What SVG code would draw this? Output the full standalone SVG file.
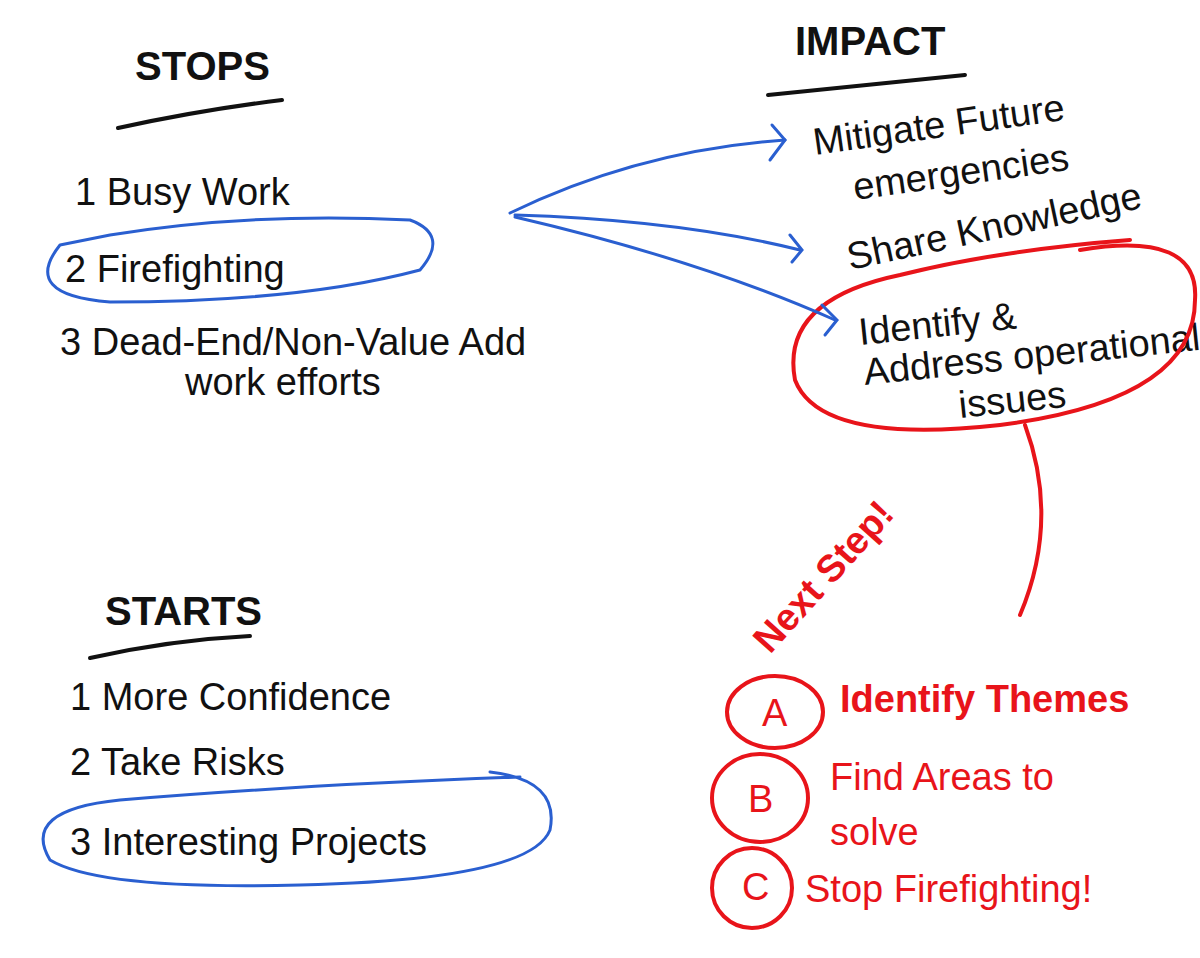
<svg xmlns="http://www.w3.org/2000/svg" width="1200" height="958" viewBox="0 0 1200 958">
<style>
.k{font-family:"Liberation Sans",sans-serif;fill:#111;font-size:38px}
.h{font-family:"Liberation Sans",sans-serif;fill:#111;font-size:40px;font-weight:bold}
.r{font-family:"Liberation Sans",sans-serif;fill:#e8141a;font-size:38px}
.bl{fill:none;stroke:#2a5fd0;stroke-width:3;stroke-linecap:round}
.rd{fill:none;stroke:#e8141a;stroke-width:4;stroke-linecap:round}
.ln{fill:none;stroke:#111;stroke-width:4;stroke-linecap:round}
</style>
<rect width="1200" height="958" fill="#fff"/>
<g id="stops">
<text class="h" x="135" y="80">STOPS</text>
<path class="ln" d="M118 128 Q200 110 282 100"/>
<text class="k" x="75" y="205">1 Busy Work</text>
<text class="k" x="65" y="282">2  Firefighting</text>
<text class="k" x="60" y="355" font-size="34">3   Dead-End/Non-Value Add</text>
<text class="k" x="185" y="395" font-size="34">work efforts</text>
<path class="bl" d="M60 245 Q20 295 110 302 Q300 302 420 270 Q450 235 410 220 Q250 212 110 235 Q60 245 60 245"/>
</g>
<g id="impact">
<text class="h" x="795" y="55">IMPACT</text>
<path class="ln" d="M768 95 Q870 85 965 75"/>
<text class="k" x="815" y="155" transform="rotate(-8 815 155)">Mitigate Future</text>
<text class="k" x="855" y="200" transform="rotate(-8 855 200)">emergencies</text>
<text class="k" x="850" y="270" transform="rotate(-12 850 270)" font-size="36">Share Knowledge</text>
<text class="k" x="860" y="345" transform="rotate(-6 860 345)" font-size="30">Identify  &amp;</text>
<text class="k" x="865" y="385" transform="rotate(-6 865 385)" font-size="26">Address operational</text>
<text class="k" x="960" y="418" transform="rotate(-6 960 418)" font-size="30">issues</text>
<path class="rd" d="M1080 250 Q1200 230 1195 300 Q1195 400 1000 425 Q820 445 795 380 Q780 300 900 275 Q1000 250 1130 240"/>
</g>
<g id="connectors">
<path class="bl" d="M510 213 Q640 150 785 140"/>
<path class="bl" d="M772 125 L785 140 L770 160"/>
<path class="bl" d="M515 215 Q680 220 800 250"/>
<path class="bl" d="M790 235 L802 250 L792 262"/>
<path class="bl" d="M515 217 Q700 260 835 320"/>
<path class="bl" d="M822 305 L837 320 L825 335"/>
<path class="rd" d="M1025 425 Q1060 520 1020 615"/>
</g>
<g id="starts">
<text class="h" x="105" y="625">STARTS</text>
<path class="ln" d="M90 658 Q170 640 250 636"/>
<text class="k" x="70" y="710">1 More Confidence</text>
<text class="k" x="70" y="775">2 Take Risks</text>
<text class="k" x="70" y="855">3 Interesting Projects</text>
<path class="bl" d="M490 772 Q560 780 550 830 Q530 880 300 885 Q100 890 50 860 Q20 810 120 800 Q300 785 520 777"/>
</g>
<g id="nextstep">
<text class="r" x="770" y="655" transform="rotate(-48 770 655)" font-weight="bold">Next Step!</text>
<ellipse class="rd" cx="775" cy="712" rx="48" ry="36"/>
<text class="r" x="762" y="726">A</text>
<text class="r" x="840" y="712" font-weight="bold">Identify Themes</text>
<ellipse class="rd" cx="760" cy="798" rx="48" ry="44"/>
<text class="r" x="748" y="812">B</text>
<text class="r" x="830" y="790">Find Areas to</text>
<text class="r" x="830" y="845">solve</text>
<ellipse class="rd" cx="752" cy="888" rx="40" ry="40"/>
<text class="r" x="742" y="900" font-size="30">C</text>
<text class="r" x="805" y="902">Stop Firefighting!</text>
</g>
</svg>
